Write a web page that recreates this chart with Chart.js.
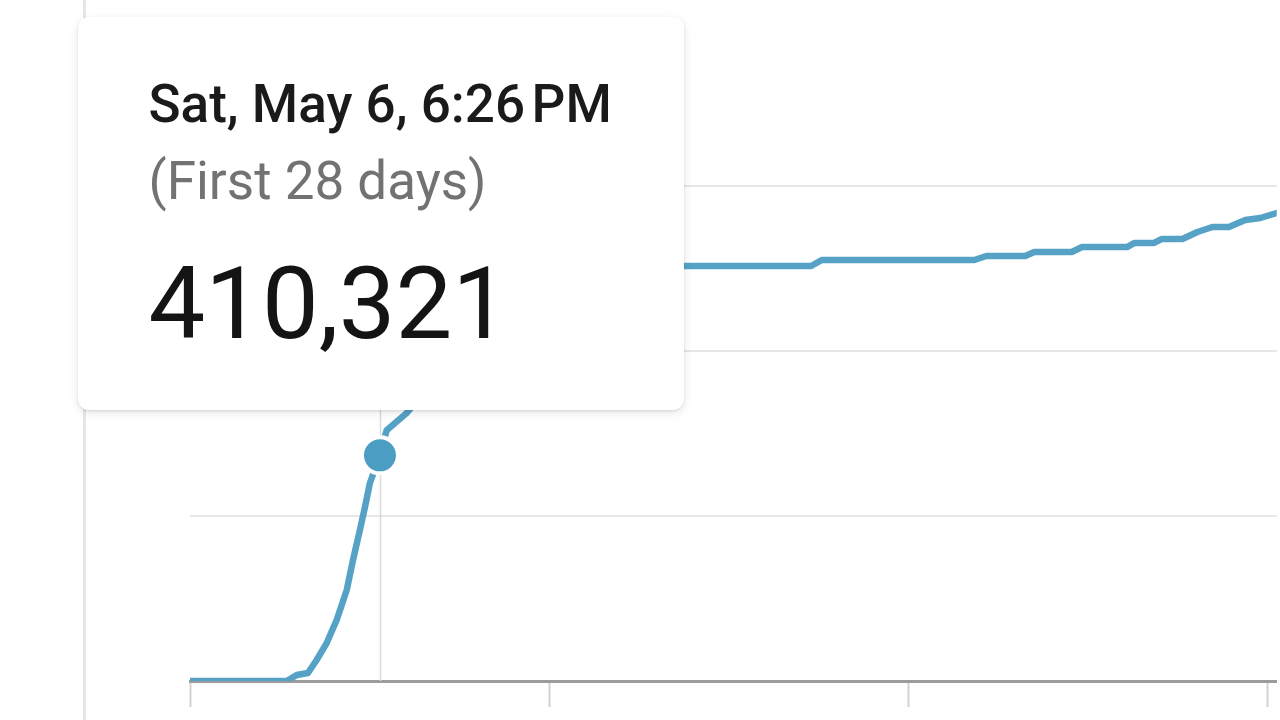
<!DOCTYPE html>
<html>
<head>
<meta charset="utf-8">
<script src="https://cdn.jsdelivr.net/npm/chart.js@4"></script>
<style>
  html, body { margin: 0; padding: 0; background: #ffffff; overflow: hidden; }
  #wrap { position: relative; width: 1280px; height: 720px; font-family: Roboto, "Noto Sans", Arial, sans-serif; }
  #c { position: absolute; left: 0; top: 0; }
  #leftRule { position: absolute; left: 83px; top: 0; width: 3px; height: 720px; background: #e6e6e6; }
  #tip { position: absolute; width: 606px; height: 393px; background: #ffffff; border-radius: 11px;
         box-shadow: 0 1px 3px rgba(0,0,0,0.10), 0 3px 10px rgba(0,0,0,0.10); display: none; }
  #tip div { position: absolute; left: 71px; white-space: nowrap; }
  #tipTitle { top: 61px; font-size: 53px; line-height: 53px; font-weight: 500; color: #1a1a1a; }
  #tipSub { top: 138px; font-size: 53px; line-height: 53px; font-weight: 400; color: #727272; }
  #tipValue { top: 236px; font-size: 101px; line-height: 101px; font-weight: 400; color: #141414; }
</style>
</head>
<body>
<div id="wrap">
  <div id="leftRule"></div>
  <canvas id="c" width="1280" height="720"></canvas>
  <div id="tip"><div id="tipTitle"></div><div id="tipSub"></div><div id="tipValue"></div></div>
</div>
<script>
// ---- data (hours since start, cumulative views) ----
const hours = [0, 6.46, 7.13, 7.88, 8.46, 9.13, 9.80, 10.47, 10.89, 11.35, 11.69, 12.02, 12.69,
  13.14, 14.47, 16.03, 18.03, 20.7, 24.7, 28.7, 33.1, 41.5, 42.2, 52.4, 53.2, 55.8, 56.4, 58.9,
  59.6, 62.6, 63.1, 64.4, 64.9, 66.3, 67.3, 68.3, 69.4, 70.5, 71.5, 72.6, 74.0];
const views = [0, 0, 10900, 14500, 38200, 69000, 110900, 165500, 220000, 274500, 316400, 360000, 410321,
  456000, 487000, 538000, 611000, 674500, 720000, 743600, 754500, 754500, 765500, 765500, 772700, 772700, 780000, 780000,
  789000, 789000, 796400, 796400, 803600, 803600, 816400, 825500, 825500, 838200, 841800, 850900, 860000];
const xTicks = [0, 24, 48, 72];
const yTicks = [0, 300000, 600000, 900000];
const activeIndex = 12;
const tooltipDate = "Sat, May 6, 6:26\u202FPM";
const tooltipPeriod = "(First 28 days)";

const lineColor = '#55a2c6';
const points = hours.map((h, i) => ({ x: h, y: views[i] }));

const crosshair = {
  id: 'crosshair',
  beforeDatasetsDraw(chart) {
    const act = chart.getActiveElements();
    if (!act.length) return;
    const x = Math.round(act[0].element.x) + 0.5;
    const ctx = chart.ctx, a = chart.chartArea;
    ctx.save();
    ctx.strokeStyle = '#d9d9d9';
    ctx.lineWidth = 1.5;
    ctx.beginPath();
    ctx.moveTo(x, a.top);
    ctx.lineTo(x, a.bottom);
    ctx.stroke();
    ctx.restore();
  }
};

function externalTip(context) {
  const tipEl = document.getElementById('tip');
  const model = context.tooltip;
  if (model.opacity === 0 || !model.dataPoints || !model.dataPoints.length) { tipEl.style.display = 'none'; return; }
  const dp = model.dataPoints[0];
  document.getElementById('tipTitle').textContent = tooltipDate;
  document.getElementById('tipSub').textContent = tooltipPeriod;
  document.getElementById('tipValue').textContent = dp.parsed.y.toLocaleString('en-US');
  tipEl.style.left = (model.caretX - 303) + 'px';
  tipEl.style.top = (model.caretY - 438) + 'px';
  tipEl.style.display = 'block';
}

const chart = new Chart(document.getElementById('c'), {
  type: 'line',
  data: {
    datasets: [{
      data: points,
      borderColor: lineColor,
      backgroundColor: lineColor,
      borderWidth: 6.5,
      tension: 0,
      pointRadius: ctx => ctx.dataIndex === activeIndex ? 18 : 0,
      pointHoverRadius: ctx => ctx.dataIndex === activeIndex ? 18 : 0,
      pointBackgroundColor: '#4c9dc3',
      pointBorderColor: '#ffffff',
      pointBorderWidth: 4,
      pointHoverBackgroundColor: '#4c9dc3',
      pointHoverBorderColor: '#ffffff',
      pointHoverBorderWidth: 4,
      borderJoinStyle: 'round',
      borderCapStyle: 'round'
    }]
  },
  options: {
    responsive: false,
    animation: false,
    events: [],
    layout: { padding: { left: 190, right: 0, top: 76, bottom: 13 } },
    plugins: {
      legend: { display: false },
      tooltip: { enabled: false, external: externalTip, mode: 'nearest', intersect: false }
    },
    scales: {
      x: {
        type: 'linear',
        min: 0,
        max: 72.6,
        afterBuildTicks(scale) { scale.ticks = xTicks.map(v => ({ value: v })); },
        ticks: { display: false },
        grid: { drawOnChartArea: false, drawTicks: true, tickLength: 26, tickWidth: 2, tickColor: '#d2d2d2', color: '#d2d2d2' },
        border: { display: true, color: '#9c9c9c', width: 3 }
      },
      y: {
        min: 0,
        max: 1100000,
        afterBuildTicks(scale) { scale.ticks = yTicks.map(v => ({ value: v })); },
        ticks: { display: false },
        grid: { drawTicks: false, color: '#e6e6e6', lineWidth: 2 },
        border: { display: false }
      }
    }
  },
  plugins: [crosshair]
});

const el = [{ datasetIndex: 0, index: activeIndex }];
chart.setActiveElements(el);
const meta = chart.getDatasetMeta(0).data[activeIndex];
chart.tooltip.setActiveElements(el, { x: meta.x, y: meta.y });
chart.update('none');
</script>
</body>
</html>
